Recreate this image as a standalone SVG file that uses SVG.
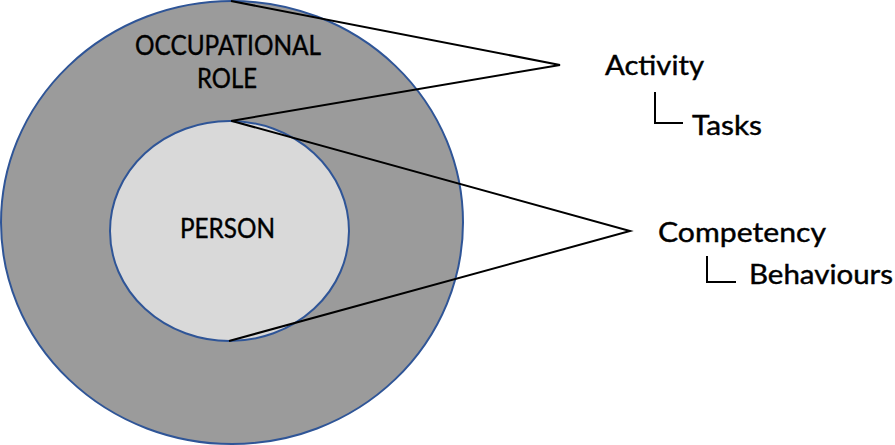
<svg xmlns="http://www.w3.org/2000/svg" width="895" height="445" viewBox="0 0 895 445">
  <style>
    .ring { stroke: #2f5597; stroke-width: 2; }
    .conn { stroke: #000; stroke-width: 2; fill: none; stroke-linejoin: miter; }
    .lbl { font-family: Lato, "Open Sans", sans-serif; font-size: 26px; fill: #000; stroke: #000; stroke-width: 0.4; }
  </style>
  <rect width="895" height="445" fill="#fff"/>
  <g id="occupational-role">
    <ellipse class="ring" cx="232" cy="222.5" rx="231" ry="221.5" fill="#9b9b9b"/>
    <text class="lbl" x="228" y="55" text-anchor="middle" textLength="186" lengthAdjust="spacingAndGlyphs">OCCUPATIONAL</text>
    <text class="lbl" x="227" y="88" text-anchor="middle" textLength="60" lengthAdjust="spacingAndGlyphs">ROLE</text>
  </g>
  <g id="person">
    <ellipse class="ring" cx="229.5" cy="231" rx="119.5" ry="110" fill="#d9d9d9"/>
    <text class="lbl" x="227.5" y="238" text-anchor="middle" textLength="95" lengthAdjust="spacingAndGlyphs">PERSON</text>
  </g>
  <g id="connectors">
    <polyline class="conn" points="231,1 560,65 231,121"/>
    <polyline class="conn" points="232,121 630,231 229,341"/>
    <polyline class="conn" points="655,92 655,123 683,123"/>
    <polyline class="conn" points="707,256 707,282 736,282"/>
  </g>
  <g id="activity">
    <text class="lbl" x="605" y="75" textLength="99" lengthAdjust="spacingAndGlyphs">Activity</text>
  </g>
  <g id="tasks">
    <text class="lbl" x="692" y="135" textLength="70" lengthAdjust="spacingAndGlyphs">Tasks</text>
  </g>
  <g id="competency">
    <text class="lbl" x="658" y="242" textLength="168" lengthAdjust="spacingAndGlyphs">Competency</text>
  </g>
  <g id="behaviours">
    <text class="lbl" x="749" y="284" textLength="144" lengthAdjust="spacingAndGlyphs">Behaviours</text>
  </g>
</svg>
